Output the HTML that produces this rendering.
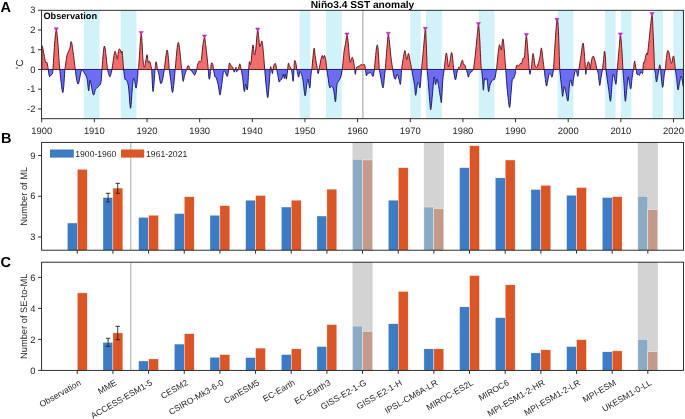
<!DOCTYPE html>
<html><head><meta charset="utf-8"><title>Niño3.4 SST anomaly</title>
<style>
html,body{margin:0;padding:0;background:#fff;width:685px;height:419px;overflow:hidden;}
svg{display:block;}
text{font-family:"Liberation Sans", Arial, sans-serif;text-rendering:geometricPrecision;}
</style></head><body>
<svg width="685" height="419" viewBox="0 0 685 419">
<rect width="685" height="419" fill="#fff"/>
<rect x="83.82" y="10.3" width="15.8" height="108.4" fill="#d2f2fa"/>
<rect x="120.67" y="10.3" width="15.8" height="108.4" fill="#d2f2fa"/>
<rect x="299.68" y="10.3" width="10.53" height="108.4" fill="#d2f2fa"/>
<rect x="326.01" y="10.3" width="15.79" height="108.4" fill="#d2f2fa"/>
<rect x="410.25" y="10.3" width="10.53" height="108.4" fill="#d2f2fa"/>
<rect x="426.04" y="10.3" width="15.8" height="108.4" fill="#d2f2fa"/>
<rect x="478.69" y="10.3" width="15.8" height="108.4" fill="#d2f2fa"/>
<rect x="557.67" y="10.3" width="15.8" height="108.4" fill="#d2f2fa"/>
<rect x="605.06" y="10.3" width="10.53" height="108.4" fill="#d2f2fa"/>
<rect x="620.85" y="10.3" width="10.53" height="108.4" fill="#d2f2fa"/>
<rect x="652.44" y="10.3" width="10.53" height="108.4" fill="#d2f2fa"/>
<rect x="673.5" y="10.3" width="9.9" height="108.4" fill="#d2f2fa"/>
<line x1="362.86" y1="10.3" x2="362.86" y2="118.7" stroke="#b4b4b4" stroke-width="1.3"/>
<defs><clipPath id="ca"><rect x="41.6" y="10.3" width="641.8" height="108.4"/></clipPath></defs>
<g clip-path="url(#ca)">
<path d="M41.9,69.45 C41.9,65.51 41.9,47.07 41.9,45.8 C42.5,44.52 44.67,59.03 45.5,61.8 C46.33,64.57 46.43,61.12 46.9,62.4 C47.37,63.67 48.07,68.28 48.3,69.45 Z" fill="rgb(242,110,110)" stroke="rgba(88,8,12,0.9)" stroke-width="1.0" stroke-linejoin="round"/>
<path d="M48.3,69.45 C48.48,70.61 48.95,75.48 49.4,76.4 C49.85,77.33 50.48,75.47 51,75 C51.52,74.53 52.18,74.52 52.5,73.6 C52.82,72.67 52.83,70.14 52.9,69.45 Z" fill="rgb(108,108,246)" stroke="rgba(12,12,95,0.9)" stroke-width="1.0" stroke-linejoin="round"/>
<path d="M52.9,69.45 C53.47,62.93 55.17,30.3 56.3,30.3 C57.43,30.3 59.13,62.93 59.7,69.45 Z" fill="rgb(242,110,110)" stroke="rgba(88,8,12,0.9)" stroke-width="1.0" stroke-linejoin="round"/>
<path d="M59.7,69.45 C60.22,73.31 61.93,92.6 62.8,92.6 C63.67,92.6 64.55,73.31 64.9,69.45 Z" fill="rgb(108,108,246)" stroke="rgba(12,12,95,0.9)" stroke-width="1.0" stroke-linejoin="round"/>
<path d="M64.9,69.45 C65.25,67.12 66.18,58.98 67,55.5 C67.82,52.02 69.03,50.78 69.8,48.6 C70.57,46.42 70.68,38.92 71.6,42.4 C72.52,45.88 74.68,64.94 75.3,69.45 Z" fill="rgb(242,110,110)" stroke="rgba(88,8,12,0.9)" stroke-width="1.0" stroke-linejoin="round"/>
<path d="M75.3,69.45 C75.53,71.17 76.17,77.42 76.7,79.8 C77.23,82.17 77.7,85.3 78.5,83.7 C79.3,82.1 80.53,72 81.5,70.2 C82.47,69.45 83.38,71.52 84.3,72.9 C85.22,74.28 86.27,75.5 87,78.5 C87.73,81.5 88.18,90.57 88.7,90.9 C89.22,91.23 89.33,79.85 90.1,80.5 C90.87,81.15 92.42,93.3 93.3,94.8 C94.18,96.3 94.83,90.62 95.4,89.5 C95.97,88.38 96.13,88.67 96.7,88.1 C97.27,87.53 98.1,87.02 98.8,86.1 C99.5,85.18 100.37,85.38 100.9,82.6 C101.43,79.82 101.82,71.64 102,69.45 Z" fill="rgb(108,108,246)" stroke="rgba(12,12,95,0.9)" stroke-width="1.0" stroke-linejoin="round"/>
<path d="M102,69.45 C102.4,65.56 103.48,46.1 104.4,46.1 C105.32,46.1 106.98,65.56 107.5,69.45 Z" fill="rgb(242,110,110)" stroke="rgba(88,8,12,0.9)" stroke-width="1.0" stroke-linejoin="round"/>
<path d="M107.5,69.45 C107.9,70.67 109.15,76.8 109.9,76.8 C110.65,76.8 111.65,70.67 112,69.45 Z" fill="rgb(108,108,246)" stroke="rgba(12,12,95,0.9)" stroke-width="1.0" stroke-linejoin="round"/>
<path d="M112,69.45 C112.45,66.54 113.97,54.33 114.7,52 C115.43,49.67 115.95,54.33 116.4,55.5 C116.85,56.67 117,59.97 117.4,59 C117.8,58.03 118.33,51.25 118.8,49.7 C119.27,48.15 119.78,49.18 120.2,49.7 C120.62,50.22 120.97,52.42 121.3,52.8 C121.63,53.18 121.82,49.23 122.2,52 C122.58,54.77 123.37,66.54 123.6,69.45 Z" fill="rgb(242,110,110)" stroke="rgba(88,8,12,0.9)" stroke-width="1.0" stroke-linejoin="round"/>
<path d="M123.6,69.45 C123.83,71.06 124.53,77.38 125,79.1 C125.47,80.82 125.82,78.52 126.4,79.8 C126.98,81.08 127.82,82.07 128.5,86.8 C129.18,91.53 129.93,107.05 130.5,108.2 C131.07,109.35 131.43,98.55 131.9,93.7 C132.37,88.85 132.83,81.18 133.3,79.1 C133.77,77.02 134.23,79.7 134.7,81.2 C135.17,82.7 135.63,88.55 136.1,88.1 C136.57,87.65 137.17,81.61 137.5,78.5 C137.83,75.39 138,70.96 138.1,69.45 Z" fill="rgb(108,108,246)" stroke="rgba(12,12,95,0.9)" stroke-width="1.0" stroke-linejoin="round"/>
<path d="M138.1,69.45 C138.22,68.74 138.28,69.45 138.8,65.2 C139.32,59.31 140.5,35.02 141.2,34.1 C141.9,33.18 142.47,54.17 143,59.7 C143.53,65.23 143.93,67.08 144.4,67.3 C144.87,67.52 145.35,63.08 145.8,61 C146.25,58.92 146.72,54.57 147.1,54.8 C147.48,55.03 147.75,61.37 148.1,62.4 C148.45,63.43 148.83,60.88 149.2,61 C149.57,61.12 149.88,61.69 150.3,63.1 C150.72,64.51 151.47,68.39 151.7,69.45 Z" fill="rgb(242,110,110)" stroke="rgba(88,8,12,0.9)" stroke-width="1.0" stroke-linejoin="round"/>
<path d="M151.7,69.45 C151.93,73.14 152.55,91.6 153.1,91.6 C153.65,91.6 154.68,73.14 155,69.45 Z" fill="rgb(108,108,246)" stroke="rgba(12,12,95,0.9)" stroke-width="1.0" stroke-linejoin="round"/>
<path d="M155,69.45 C155.18,68.17 155.68,61.8 156.1,61.8 C156.52,61.8 157.27,68.17 157.5,69.45 Z" fill="rgb(242,110,110)" stroke="rgba(88,8,12,0.9)" stroke-width="1.0" stroke-linejoin="round"/>
<path d="M157.5,69.45 C157.73,70.26 158.38,71.99 158.9,74.3 C159.42,76.61 160.02,82.27 160.6,83.3 C161.18,84.33 161.78,82.81 162.4,80.5 C163.02,78.19 163.98,71.29 164.3,69.45 Z" fill="rgb(108,108,246)" stroke="rgba(12,12,95,0.9)" stroke-width="1.0" stroke-linejoin="round"/>
<path d="M164.3,69.45 C164.78,66.21 166.37,50 167.2,50 C168.03,50 168.95,66.21 169.3,69.45 Z" fill="rgb(242,110,110)" stroke="rgba(88,8,12,0.9)" stroke-width="1.0" stroke-linejoin="round"/>
<path d="M169.3,69.45 C169.53,71.17 170.13,75.99 170.7,79.8 C171.27,83.61 171.95,94.02 172.7,92.3 C173.45,90.58 174.78,73.26 175.2,69.45 Z" fill="rgb(108,108,246)" stroke="rgba(12,12,95,0.9)" stroke-width="1.0" stroke-linejoin="round"/>
<path d="M175.2,69.45 C175.72,64.94 177.22,42.4 178.3,42.4 C179.38,42.4 181.13,64.94 181.7,69.45 Z" fill="rgb(242,110,110)" stroke="rgba(88,8,12,0.9)" stroke-width="1.0" stroke-linejoin="round"/>
<path d="M181.7,69.45 C181.93,71.41 182.63,80.16 183.1,81.2 C183.57,82.24 183.92,77.66 184.5,75.7 C185.08,73.74 186.25,70.49 186.6,69.45 Z" fill="rgb(108,108,246)" stroke="rgba(12,12,95,0.9)" stroke-width="1.0" stroke-linejoin="round"/>
<path d="M186.6,69.45 C186.87,68.79 187.63,65.5 188.2,65.5 C188.77,65.5 189.7,68.79 190,69.45 Z" fill="rgb(242,110,110)" stroke="rgba(88,8,12,0.9)" stroke-width="1.0" stroke-linejoin="round"/>
<path d="M190,69.45 C190.33,69.79 191.25,70.58 192,71.5 C192.75,72.42 193.85,74.88 194.5,75 C195.15,75.12 195.52,73.12 195.9,72.2 C196.28,71.28 196.65,69.91 196.8,69.45 Z" fill="rgb(108,108,246)" stroke="rgba(12,12,95,0.9)" stroke-width="1.0" stroke-linejoin="round"/>
<path d="M196.8,69.45 C196.92,68.74 197.1,66.61 197.5,65.2 C197.9,63.79 198.73,61.57 199.2,61 C199.67,60.43 199.93,62.02 200.3,61.8 C200.67,61.58 200.98,62.37 201.4,59.7 C201.82,57.03 202.28,49.5 202.8,45.8 C203.32,42.1 204,37.5 204.5,37.5 C205,37.5 205.4,42.8 205.8,45.8 C206.2,48.8 206.48,51.56 206.9,55.5 C207.32,59.44 208.07,67.12 208.3,69.45 Z" fill="rgb(242,110,110)" stroke="rgba(88,8,12,0.9)" stroke-width="1.0" stroke-linejoin="round"/>
<path d="M208.3,69.45 C208.4,70.84 208.67,76.29 208.9,77.8 C209.13,79.31 209.4,79.89 209.7,78.5 C210,77.11 210.53,70.96 210.7,69.45 Z" fill="rgb(108,108,246)" stroke="rgba(12,12,95,0.9)" stroke-width="1.0" stroke-linejoin="round"/>
<path d="M210.7,69.45 C210.82,68.39 211.05,63.93 211.4,63.1 C211.75,62.27 212.45,63.44 212.8,64.5 C213.15,65.56 213.38,68.62 213.5,69.45 Z" fill="rgb(242,110,110)" stroke="rgba(88,8,12,0.9)" stroke-width="1.0" stroke-linejoin="round"/>
<path d="M213.5,69.45 C213.72,70.61 214.35,75.01 214.8,76.4 C215.25,77.79 215.62,76.3 216.2,77.8 C216.78,79.3 217.67,82.52 218.3,85.4 C218.93,88.28 219.42,95.33 220,95.1 C220.58,94.87 221.2,87.93 221.8,84 C222.4,80.07 223.03,73.47 223.6,71.5 C224.17,69.53 224.58,71.38 225.2,72.2 C225.82,73.02 226.72,76.86 227.3,76.4 C227.88,75.94 228.47,70.61 228.7,69.45 Z" fill="rgb(108,108,246)" stroke="rgba(12,12,95,0.9)" stroke-width="1.0" stroke-linejoin="round"/>
<path d="M228.7,69.45 C228.82,68.39 228.95,63.69 229.4,63.1 C229.85,62.51 230.83,65.17 231.4,65.9 C231.97,66.63 232.45,66.91 232.8,67.5 C233.15,68.09 233.38,69.12 233.5,69.45 Z" fill="rgb(242,110,110)" stroke="rgba(88,8,12,0.9)" stroke-width="1.0" stroke-linejoin="round"/>
<path d="M233.5,69.45 C233.62,69.91 233.95,72.11 234.2,72.2 C234.45,72.29 234.83,70.46 235,70 C235.17,69.54 235.17,69.54 235.2,69.45 Z" fill="rgb(108,108,246)" stroke="rgba(12,12,95,0.9)" stroke-width="1.0" stroke-linejoin="round"/>
<path d="M235.2,69.45 C235.34,69.09 235.82,67.3 236,67.3 C236.18,67.3 236.24,69.09 236.29,69.45 Z" fill="rgb(242,110,110)" stroke="rgba(88,8,12,0.9)" stroke-width="1.0" stroke-linejoin="round"/>
<path d="M236.29,69.45 C236.34,69.84 236.29,71.8 236.6,71.8 C236.95,71.8 238.1,69.84 238.4,69.45 Z" fill="rgb(108,108,246)" stroke="rgba(12,12,95,0.9)" stroke-width="1.0" stroke-linejoin="round"/>
<path d="M238.4,69.45 C238.63,68.51 239.35,63.8 239.8,63.8 C240.25,63.8 240.88,68.51 241.1,69.45 Z" fill="rgb(242,110,110)" stroke="rgba(88,8,12,0.9)" stroke-width="1.0" stroke-linejoin="round"/>
<path d="M241.1,69.45 C241.33,70.61 241.97,72.71 242.5,76.4 C243.03,80.09 243.77,90.33 244.3,91.6 C244.83,92.87 245.18,84.35 245.7,84 C246.22,83.65 246.9,91.92 247.4,89.5 C247.9,87.08 248.48,72.79 248.7,69.45 Z" fill="rgb(108,108,246)" stroke="rgba(12,12,95,0.9)" stroke-width="1.0" stroke-linejoin="round"/>
<path d="M248.7,69.45 C248.82,68.17 249.05,62.74 249.4,61.8 C249.75,60.86 250.22,66.58 250.8,63.8 C251.38,61.02 252.32,46.6 252.9,45.1 C253.48,43.6 253.83,53.98 254.3,54.8 C254.77,55.62 255.13,54.03 255.7,50 C256.27,45.97 257.02,31.18 257.7,30.6 C258.38,30.02 259.1,44.77 259.8,46.5 C260.5,48.23 261.32,40.18 261.9,41 C262.48,41.82 262.83,46.66 263.3,51.4 C263.77,56.14 264.47,66.44 264.7,69.45 Z" fill="rgb(242,110,110)" stroke="rgba(88,8,12,0.9)" stroke-width="1.0" stroke-linejoin="round"/>
<path d="M264.7,69.45 C264.92,71.88 265.48,79.31 266,84 C266.52,88.69 267.22,98.3 267.8,97.6 C268.38,96.9 269.08,84.49 269.5,79.8 C269.92,75.11 270.17,71.17 270.3,69.45 Z" fill="rgb(108,108,246)" stroke="rgba(12,12,95,0.9)" stroke-width="1.0" stroke-linejoin="round"/>
<path d="M270.3,69.45 C270.35,68.97 270.4,66.6 270.6,66.6 C270.8,66.6 271.35,68.97 271.5,69.45 Z" fill="rgb(242,110,110)" stroke="rgba(88,8,12,0.9)" stroke-width="1.0" stroke-linejoin="round"/>
<path d="M271.5,69.45 C271.65,70.14 272.15,73.6 272.4,73.6 C272.65,73.6 272.9,70.14 273,69.45 Z" fill="rgb(108,108,246)" stroke="rgba(12,12,95,0.9)" stroke-width="1.0" stroke-linejoin="round"/>
<path d="M273,69.45 C273.2,68.62 273.77,65.44 274.2,64.5 C274.63,63.56 275.2,62.97 275.6,63.8 C276,64.62 276.43,68.51 276.6,69.45 Z" fill="rgb(242,110,110)" stroke="rgba(88,8,12,0.9)" stroke-width="1.0" stroke-linejoin="round"/>
<path d="M276.6,69.45 C276.78,70.26 277.28,72.22 277.7,74.3 C278.12,76.38 278.63,80.98 279.1,81.9 C279.57,82.82 280.05,80.27 280.5,79.8 C280.95,79.33 281.35,80.02 281.8,79.1 C282.25,78.18 282.78,74.4 283.2,74.3 C283.62,74.2 283.95,78.5 284.3,78.5 C284.65,78.5 284.97,74.2 285.3,74.3 C285.63,74.4 285.95,79.48 286.3,79.1 C286.65,78.72 287.17,73.61 287.4,72 C287.63,70.39 287.65,69.88 287.7,69.45 Z" fill="rgb(108,108,246)" stroke="rgba(12,12,95,0.9)" stroke-width="1.0" stroke-linejoin="round"/>
<path d="M287.7,69.45 C287.82,68.39 288.1,63.69 288.4,63.1 C288.7,62.51 289.17,65.2 289.5,65.9 C289.83,66.6 290.07,66.71 290.4,67.3 C290.73,67.89 291.32,69.09 291.5,69.45 Z" fill="rgb(242,110,110)" stroke="rgba(88,8,12,0.9)" stroke-width="1.0" stroke-linejoin="round"/>
<path d="M291.5,69.45 C291.62,70.26 291.92,72.34 292.2,74.3 C292.48,76.26 292.9,82.01 293.2,81.2 C293.5,80.39 293.87,71.41 294,69.45 Z" fill="rgb(108,108,246)" stroke="rgba(12,12,95,0.9)" stroke-width="1.0" stroke-linejoin="round"/>
<path d="M294,69.45 C294.1,68.04 294.32,62.17 294.6,61 C294.88,59.83 295.33,60.99 295.7,62.4 C296.07,63.81 296.62,68.28 296.8,69.45 Z" fill="rgb(242,110,110)" stroke="rgba(88,8,12,0.9)" stroke-width="1.0" stroke-linejoin="round"/>
<path d="M296.8,69.45 C296.97,70.26 297.48,73.03 297.8,74.3 C298.12,75.57 298.37,77.57 298.7,77.1 C299.03,76.63 299.38,72.08 299.8,71.5 C300.22,70.92 300.68,72.22 301.2,73.6 C301.72,74.98 302.25,76.1 302.9,79.8 C303.55,83.5 304.45,95.1 305.1,95.8 C305.75,96.5 306.3,86.78 306.8,84 C307.3,81.22 307.6,78.42 308.1,79.1 C308.6,79.78 309.33,88.67 309.8,88.1 C310.27,87.53 310.57,78.81 310.9,75.7 C311.23,72.59 311.65,70.49 311.8,69.45 Z" fill="rgb(108,108,246)" stroke="rgba(12,12,95,0.9)" stroke-width="1.0" stroke-linejoin="round"/>
<path d="M311.8,69.45 C312.17,65.98 313.45,50.93 314,48.6 C314.55,46.27 314.7,52.97 315.1,55.5 C315.5,58.03 316,61.47 316.4,63.8 C316.8,66.12 317.32,68.51 317.5,69.45 Z" fill="rgb(242,110,110)" stroke="rgba(88,8,12,0.9)" stroke-width="1.0" stroke-linejoin="round"/>
<path d="M317.5,69.45 C317.6,70.14 317.82,73.6 318.1,73.6 C318.38,73.6 319.02,70.14 319.2,69.45 Z" fill="rgb(108,108,246)" stroke="rgba(12,12,95,0.9)" stroke-width="1.0" stroke-linejoin="round"/>
<path d="M319.2,69.45 C319.48,67.83 320.38,62.03 320.9,59.7 C321.42,57.38 321.88,55.73 322.3,55.5 C322.72,55.27 323.03,58.3 323.4,58.3 C323.77,58.3 324.08,55.05 324.5,55.5 C324.92,55.95 325.52,58.67 325.9,61 C326.28,63.33 326.65,68.04 326.8,69.45 Z" fill="rgb(242,110,110)" stroke="rgba(88,8,12,0.9)" stroke-width="1.0" stroke-linejoin="round"/>
<path d="M326.8,69.45 C327.03,70.96 327.73,75.49 328.2,78.5 C328.67,81.51 329.02,86.23 329.6,87.5 C330.18,88.77 331.02,85.65 331.7,86.1 C332.38,86.55 333.07,87.6 333.7,90.2 C334.33,92.8 334.97,102.5 335.5,101.7 C336.03,100.9 336.38,88.82 336.9,85.4 C337.42,81.98 337.97,82.58 338.6,81.2 C339.23,79.82 340.08,79.06 340.7,77.1 C341.32,75.14 342.03,70.72 342.3,69.45 Z" fill="rgb(108,108,246)" stroke="rgba(12,12,95,0.9)" stroke-width="1.0" stroke-linejoin="round"/>
<path d="M342.3,69.45 C342.6,66.44 343.58,55.58 344.1,51.4 C344.62,47.22 344.92,47.05 345.4,44.4 C345.88,41.75 346.53,35.72 347,35.5 C347.47,35.28 347.82,39.77 348.2,43.1 C348.58,46.43 348.97,52.28 349.3,55.5 C349.63,58.72 349.82,61.93 350.2,62.4 C350.58,62.87 351.2,59.1 351.6,58.3 C352,57.5 352.25,56.92 352.6,57.6 C352.95,58.28 353.33,60.42 353.7,62.4 C354.07,64.38 354.62,68.28 354.8,69.45 Z" fill="rgb(242,110,110)" stroke="rgba(88,8,12,0.9)" stroke-width="1.0" stroke-linejoin="round"/>
<path d="M354.8,69.45 C354.88,70.26 355.07,74.3 355.3,74.3 C355.53,74.3 356.05,70.26 356.2,69.45 Z" fill="rgb(108,108,246)" stroke="rgba(12,12,95,0.9)" stroke-width="1.0" stroke-linejoin="round"/>
<path d="M356.2,69.45 C356.28,69.09 356.43,67.78 356.7,67.3 C356.97,66.82 357.33,66.83 357.8,66.6 C358.27,66.37 358.92,66.25 359.5,65.9 C360.08,65.55 360.77,64.62 361.3,64.5 C361.83,64.38 362.17,65.2 362.7,65.2 C363.23,65.2 364.03,63.79 364.5,64.5 C364.97,65.21 365.33,68.62 365.5,69.45 Z" fill="rgb(242,110,110)" stroke="rgba(88,8,12,0.9)" stroke-width="1.0" stroke-linejoin="round"/>
<path d="M365.5,69.45 C365.65,70.49 366.02,75.12 366.4,75.7 C366.78,76.28 367.38,73.25 367.8,72.9 C368.22,72.55 368.53,73.72 368.9,73.6 C369.27,73.48 369.58,72.2 370,72.2 C370.42,72.2 370.88,72.9 371.4,73.6 C371.92,74.3 372.6,77.09 373.1,76.4 C373.6,75.71 374.18,70.61 374.4,69.45 Z" fill="rgb(108,108,246)" stroke="rgba(12,12,95,0.9)" stroke-width="1.0" stroke-linejoin="round"/>
<path d="M374.4,69.45 C374.75,65.86 375.92,51.61 376.5,47.9 C377.08,44.19 377.43,43.61 377.9,47.2 C378.37,50.79 379.07,65.74 379.3,69.45 Z" fill="rgb(242,110,110)" stroke="rgba(88,8,12,0.9)" stroke-width="1.0" stroke-linejoin="round"/>
<path d="M379.3,69.45 C379.53,70.72 380.08,74.02 380.7,77.1 C381.32,80.17 382.38,87.9 383,87.9 C383.62,87.9 384.02,80.17 384.4,77.1 C384.78,74.02 385.15,70.72 385.3,69.45 Z" fill="rgb(108,108,246)" stroke="rgba(12,12,95,0.9)" stroke-width="1.0" stroke-linejoin="round"/>
<path d="M385.3,69.45 C385.57,65.98 386.4,54.38 386.9,48.6 C387.4,42.83 387.83,35.5 388.3,34.8 C388.77,34.1 389.23,40.48 389.7,44.4 C390.17,48.32 390.6,54.12 391.1,58.3 C391.6,62.47 392.43,67.59 392.7,69.45 Z" fill="rgb(242,110,110)" stroke="rgba(88,8,12,0.9)" stroke-width="1.0" stroke-linejoin="round"/>
<path d="M392.7,69.45 C392.93,70.72 393.63,75.49 394.1,77.1 C394.57,78.71 394.97,79.57 395.5,79.1 C396.03,78.63 396.7,74.18 397.3,74.3 C397.9,74.42 398.57,78.18 399.1,79.8 C399.63,81.42 400.08,85.72 400.5,84 C400.92,82.28 401.42,71.88 401.6,69.45 Z" fill="rgb(108,108,246)" stroke="rgba(12,12,95,0.9)" stroke-width="1.0" stroke-linejoin="round"/>
<path d="M401.6,69.45 C401.8,68.04 402.25,64.12 402.8,61 C403.35,57.88 404.27,50.92 404.9,50.7 C405.53,50.48 406.02,59.25 406.6,59.7 C407.18,60.15 407.88,53.52 408.4,53.4 C408.92,53.28 409.13,56.33 409.7,59 C410.27,61.67 411.45,67.71 411.8,69.45 Z" fill="rgb(242,110,110)" stroke="rgba(88,8,12,0.9)" stroke-width="1.0" stroke-linejoin="round"/>
<path d="M411.8,69.45 C412.03,70.84 412.73,75.14 413.2,77.8 C413.67,80.46 414.18,82.48 414.6,85.4 C415.02,88.32 415.23,95.53 415.7,95.3 C416.17,95.07 416.9,86.12 417.4,84 C417.9,81.88 418.25,82.02 418.7,82.6 C419.15,83.18 419.63,89.69 420.1,87.5 C420.57,85.31 421.27,72.46 421.5,69.45 Z" fill="rgb(108,108,246)" stroke="rgba(12,12,95,0.9)" stroke-width="1.0" stroke-linejoin="round"/>
<path d="M421.5,69.45 C421.83,65.98 422.87,55.19 423.5,48.6 C424.13,42.01 424.85,31.05 425.3,29.9 C425.75,28.75 425.88,35.11 426.2,41.7 C426.52,48.29 427.03,64.83 427.2,69.45 Z" fill="rgb(242,110,110)" stroke="rgba(88,8,12,0.9)" stroke-width="1.0" stroke-linejoin="round"/>
<path d="M427.2,69.45 C427.38,71.64 427.88,77.41 428.3,82.6 C428.72,87.79 429.28,96.1 429.7,100.6 C430.12,105.1 430.33,110.75 430.8,109.6 C431.27,108.45 431.95,99.12 432.5,93.7 C433.05,88.28 433.6,78.6 434.1,77.1 C434.6,75.6 435.03,84.37 435.5,84.7 C435.97,85.03 436.37,78.75 436.9,79.1 C437.43,79.45 438.1,83.68 438.7,86.8 C439.3,89.92 440.03,95.32 440.5,97.8 C440.97,100.28 441.12,104.7 441.5,101.7 C441.88,98.7 442.35,85.17 442.8,79.8 C443.25,74.42 443.97,71.17 444.2,69.45 Z" fill="rgb(108,108,246)" stroke="rgba(12,12,95,0.9)" stroke-width="1.0" stroke-linejoin="round"/>
<path d="M444.2,69.45 C444.5,66.89 445.53,56.43 446,54.1 C446.47,51.77 446.6,53.42 447,55.5 C447.4,57.58 447.93,65.45 448.4,66.6 C448.87,67.75 449.27,64.75 449.8,62.4 C450.33,60.05 451.08,52.73 451.6,52.5 C452.12,52.27 452.58,58.17 452.9,61 C453.22,63.83 453.4,68.04 453.5,69.45 Z" fill="rgb(242,110,110)" stroke="rgba(88,8,12,0.9)" stroke-width="1.0" stroke-linejoin="round"/>
<path d="M453.5,69.45 C453.68,70.72 454.23,75.41 454.6,77.1 C454.97,78.79 455.28,80.45 455.7,79.6 C456.12,78.75 456.68,73.69 457.1,72 C457.52,70.31 458.02,69.88 458.2,69.45 Z" fill="rgb(108,108,246)" stroke="rgba(12,12,95,0.9)" stroke-width="1.0" stroke-linejoin="round"/>
<path d="M458.2,69.45 C458.25,69.09 458.2,67.66 458.5,67.3 C458.8,66.94 459.5,68.22 460,67.3 C460.5,66.38 461.07,62.95 461.5,61.8 C461.93,60.65 462.25,59.95 462.6,60.4 C462.95,60.85 463.2,63.7 463.6,64.5 C464,65.3 464.6,64.38 465,65.2 C465.4,66.03 465.83,68.74 466,69.45 Z" fill="rgb(242,110,110)" stroke="rgba(88,8,12,0.9)" stroke-width="1.0" stroke-linejoin="round"/>
<path d="M466,69.45 C466.18,69.88 466.7,70.72 467.1,72 C467.5,73.28 468,76.83 468.4,77.1 C468.8,77.37 469.03,74.42 469.5,73.6 C469.97,72.78 470.53,72.89 471.2,72.2 C471.87,71.51 473.12,69.91 473.5,69.45 Z" fill="rgb(108,108,246)" stroke="rgba(12,12,95,0.9)" stroke-width="1.0" stroke-linejoin="round"/>
<path d="M473.5,69.45 C473.82,66.89 474.82,59.43 475.4,54.1 C475.98,48.77 476.5,42.33 477,37.5 C477.5,32.67 477.98,25.55 478.4,25.1 C478.82,24.65 479.08,28.35 479.5,34.8 C479.92,41.25 480.55,58.02 480.9,63.8 C481.25,69.45 481.48,68.51 481.6,69.45 Z" fill="rgb(242,110,110)" stroke="rgba(88,8,12,0.9)" stroke-width="1.0" stroke-linejoin="round"/>
<path d="M481.6,69.45 C481.77,71.17 482.3,76.34 482.6,79.8 C482.9,83.26 483.1,90.32 483.4,90.2 C483.7,90.08 484.02,80.83 484.4,79.1 C484.78,77.37 485.25,79.8 485.7,79.8 C486.15,79.8 486.63,77.13 487.1,79.1 C487.57,81.07 488.03,90.55 488.5,91.6 C488.97,92.65 489.43,87.02 489.9,85.4 C490.37,83.78 490.83,82.83 491.3,81.9 C491.77,80.97 492.13,80.27 492.7,79.8 C493.27,79.33 494.07,80.82 494.7,79.1 C495.33,77.38 496.2,71.06 496.5,69.45 Z" fill="rgb(108,108,246)" stroke="rgba(12,12,95,0.9)" stroke-width="1.0" stroke-linejoin="round"/>
<path d="M496.5,69.45 C496.92,65.62 498.38,50.33 499,46.5 C499.62,42.67 499.82,45.97 500.2,46.5 C500.58,47.03 500.85,50.97 501.3,49.7 C501.75,48.43 502.4,38.85 502.9,38.9 C503.4,38.95 503.83,44.91 504.3,50 C504.77,55.09 505.47,66.21 505.7,69.45 Z" fill="rgb(242,110,110)" stroke="rgba(88,8,12,0.9)" stroke-width="1.0" stroke-linejoin="round"/>
<path d="M505.7,69.45 C505.88,71.88 506.45,79.72 506.8,84 C507.15,88.28 507.33,91.18 507.8,95.1 C508.27,99.02 509.07,107.73 509.6,107.5 C510.13,107.27 510.55,98.32 511,93.7 C511.45,89.08 511.85,82.33 512.3,79.8 C512.75,77.27 513.23,79.42 513.7,78.5 C514.17,77.58 514.77,75.81 515.1,74.3 C515.43,72.79 515.6,70.26 515.7,69.45 Z" fill="rgb(108,108,246)" stroke="rgba(12,12,95,0.9)" stroke-width="1.0" stroke-linejoin="round"/>
<path d="M515.7,69.45 C515.88,68.74 516.28,65.79 516.8,65.2 C517.32,64.61 518.17,66.25 518.8,65.9 C519.43,65.55 520.13,63.5 520.6,63.1 C521.07,62.7 521.2,64.3 521.6,63.5 C522,62.7 522.53,59.28 523,58.3 C523.47,57.32 524.02,59.68 524.4,57.6 C524.78,55.52 524.97,49.38 525.3,45.8 C525.63,42.22 525.98,35.4 526.4,36.1 C526.82,36.8 527.33,44.44 527.8,50 C528.27,55.56 528.97,66.21 529.2,69.45 Z" fill="rgb(242,110,110)" stroke="rgba(88,8,12,0.9)" stroke-width="1.0" stroke-linejoin="round"/>
<path d="M529.2,69.45 C529.33,70.26 529.73,74.3 530,74.3 C530.27,74.3 530.67,70.26 530.8,69.45 Z" fill="rgb(108,108,246)" stroke="rgba(12,12,95,0.9)" stroke-width="1.0" stroke-linejoin="round"/>
<path d="M531.3,69.45 C531.53,67.01 532.32,57.12 532.7,54.8 C533.08,52.47 533.22,53.77 533.6,55.5 C533.98,57.23 534.47,63.23 535,65.2 C535.53,67.17 536.27,67.53 536.8,67.3 C537.33,67.07 537.67,65.53 538.2,63.8 C538.73,62.07 539.47,59.55 540,56.9 C540.53,54.25 540.93,47.67 541.4,47.9 C541.87,48.13 542.33,54.71 542.8,58.3 C543.27,61.89 543.97,67.59 544.2,69.45 Z" fill="rgb(242,110,110)" stroke="rgba(88,8,12,0.9)" stroke-width="1.0" stroke-linejoin="round"/>
<path d="M544.2,69.45 C544.35,70.72 544.72,74.32 545.1,77.1 C545.48,79.88 546.03,85.65 546.5,86.1 C546.97,86.55 547.43,81.88 547.9,79.8 C548.37,77.72 548.83,74.52 549.3,73.6 C549.77,72.68 550.23,73.72 550.7,74.3 C551.17,74.88 551.63,77.91 552.1,77.1 C552.57,76.29 553.27,70.72 553.5,69.45 Z" fill="rgb(108,108,246)" stroke="rgba(12,12,95,0.9)" stroke-width="1.0" stroke-linejoin="round"/>
<path d="M553.5,69.45 C553.78,64.83 554.63,49.79 555.2,41.7 C555.77,33.61 556.38,23.22 556.9,20.9 C557.42,18.58 557.83,19.71 558.3,27.8 C558.77,35.89 559.47,62.51 559.7,69.45 Z" fill="rgb(242,110,110)" stroke="rgba(88,8,12,0.9)" stroke-width="1.0" stroke-linejoin="round"/>
<path d="M559.7,69.45 C559.88,71.17 560.47,76.69 560.8,79.8 C561.13,82.91 561.38,85.33 561.7,88.1 C562.02,90.87 562.3,96.62 562.7,96.4 C563.1,96.18 563.57,87.48 564.1,86.8 C564.63,86.12 565.25,89.93 565.9,92.3 C566.55,94.67 567.42,102.15 568,101 C568.58,99.85 568.95,88.93 569.4,85.4 C569.85,81.87 570.18,79.68 570.7,79.8 C571.22,79.92 572.05,86.1 572.5,86.1 C572.95,86.1 572.98,82.23 573.4,79.8 C573.82,77.37 574.5,72.98 575,71.5 C575.5,70.02 575.93,70.08 576.4,70.9 C576.87,71.72 577.38,76.64 577.8,76.4 C578.22,76.16 578.72,70.61 578.9,69.45 Z" fill="rgb(108,108,246)" stroke="rgba(12,12,95,0.9)" stroke-width="1.0" stroke-linejoin="round"/>
<path d="M578.9,69.45 C579.25,67.12 580.3,59.89 581,55.5 C581.7,51.11 582.48,42.63 583.1,43.1 C583.72,43.57 584.3,53.91 584.7,58.3 C585.1,62.69 585.37,67.59 585.5,69.45 Z" fill="rgb(242,110,110)" stroke="rgba(88,8,12,0.9)" stroke-width="1.0" stroke-linejoin="round"/>
<path d="M585.5,69.45 C585.55,70.26 585.65,74.3 585.8,74.3 C585.95,74.3 586.3,70.26 586.4,69.45 Z" fill="rgb(108,108,246)" stroke="rgba(12,12,95,0.9)" stroke-width="1.0" stroke-linejoin="round"/>
<path d="M586.4,69.45 C586.58,68.51 587.13,65.08 587.5,63.8 C587.87,62.52 588.23,61.57 588.6,61.8 C588.97,62.03 589.42,63.93 589.7,65.2 C589.98,66.48 590.2,68.74 590.3,69.45 Z" fill="rgb(242,110,110)" stroke="rgba(88,8,12,0.9)" stroke-width="1.0" stroke-linejoin="round"/>
<path d="M590.3,69.45 C590.53,67.83 591.25,61.91 591.7,59.7 C592.15,57.49 592.6,56.55 593,56.2 C593.4,55.85 593.63,56.33 594.1,57.6 C594.57,58.87 595.33,61.82 595.8,63.8 C596.27,65.77 596.72,68.51 596.9,69.45 Z" fill="rgb(242,110,110)" stroke="rgba(88,8,12,0.9)" stroke-width="1.0" stroke-linejoin="round"/>
<path d="M596.9,69.45 C597.13,70.26 597.83,71.64 598.3,74.3 C598.77,76.96 599.23,84.93 599.7,85.4 C600.17,85.87 600.63,79.76 601.1,77.1 C601.57,74.44 602.27,70.72 602.5,69.45 Z" fill="rgb(108,108,246)" stroke="rgba(12,12,95,0.9)" stroke-width="1.0" stroke-linejoin="round"/>
<path d="M602.5,69.45 C602.68,67.83 603.27,62.76 603.6,59.7 C603.93,56.64 604.18,51.33 604.5,51.1 C604.82,50.87 605.27,55.24 605.5,58.3 C605.73,61.36 605.83,67.59 605.9,69.45 Z" fill="rgb(242,110,110)" stroke="rgba(88,8,12,0.9)" stroke-width="1.0" stroke-linejoin="round"/>
<path d="M605.9,69.45 C606.13,71.17 606.83,76.46 607.3,79.8 C607.77,83.14 608.17,85.92 608.7,89.5 C609.23,93.08 609.97,101.98 610.5,101.3 C611.03,100.62 611.45,89.9 611.9,85.4 C612.35,80.9 612.75,75.45 613.2,74.3 C613.65,73.15 614.13,76.88 614.6,78.5 C615.07,80.12 615.55,85.51 616,84 C616.45,82.49 617.08,71.88 617.3,69.45 Z" fill="rgb(108,108,246)" stroke="rgba(12,12,95,0.9)" stroke-width="1.0" stroke-linejoin="round"/>
<path d="M617.3,69.45 C617.6,65.98 618.58,54.26 619.1,48.6 C619.62,42.94 619.95,35.5 620.4,35.5 C620.85,35.5 621.38,42.94 621.8,48.6 C622.22,54.26 622.72,65.98 622.9,69.45 Z" fill="rgb(242,110,110)" stroke="rgba(88,8,12,0.9)" stroke-width="1.0" stroke-linejoin="round"/>
<path d="M622.9,69.45 C623.07,71.64 623.5,77.31 623.9,82.6 C624.3,87.89 624.83,100.05 625.3,101.2 C625.77,102.35 626.23,93.52 626.7,89.5 C627.17,85.48 627.65,78.25 628.1,77.1 C628.55,75.95 628.95,80.65 629.4,82.6 C629.85,84.55 630.33,89.72 630.8,88.8 C631.27,87.88 631.77,80.32 632.2,77.1 C632.63,73.88 633.2,70.72 633.4,69.45 Z" fill="rgb(108,108,246)" stroke="rgba(12,12,95,0.9)" stroke-width="1.0" stroke-linejoin="round"/>
<path d="M633.4,69.45 C633.6,68.06 634.28,61.88 634.6,61.1 C634.92,60.33 635.03,63.41 635.3,64.8 C635.57,66.19 636.05,68.67 636.2,69.45 Z" fill="rgb(242,110,110)" stroke="rgba(88,8,12,0.9)" stroke-width="1.0" stroke-linejoin="round"/>
<path d="M636.2,69.45 C636.32,70.19 636.53,73.06 636.9,73.9 C637.27,74.74 637.97,74.27 638.4,74.5 C638.83,74.73 639.1,75.72 639.5,75.3 C639.9,74.88 640.3,72.28 640.8,72 C641.3,71.72 642.15,74.02 642.5,73.6 C642.85,73.17 642.83,70.14 642.9,69.45 Z" fill="rgb(108,108,246)" stroke="rgba(12,12,95,0.9)" stroke-width="1.0" stroke-linejoin="round"/>
<path d="M642.9,69.45 C643,68.31 643.23,63.79 643.5,62.6 C643.77,61.41 644.13,63.42 644.5,62.3 C644.87,61.18 645.3,57.45 645.7,55.9 C646.1,54.35 646.6,53.28 646.9,53 C647.2,52.72 647.2,55.68 647.5,54.2 C647.8,52.72 648.25,48.25 648.7,44.1 C649.15,39.95 649.65,34.12 650.2,29.3 C650.75,24.48 651.52,14.72 652,15.2 C652.48,15.68 652.67,23.16 653.1,32.2 C653.53,41.24 654.35,63.24 654.6,69.45 Z" fill="rgb(242,110,110)" stroke="rgba(88,8,12,0.9)" stroke-width="1.0" stroke-linejoin="round"/>
<path d="M654.6,69.45 C654.73,70.14 655.1,71.51 655.4,73.6 C655.7,75.69 656.03,81.47 656.4,82 C656.77,82.53 657.2,78.89 657.6,76.8 C658,74.71 658.6,70.67 658.8,69.45 Z" fill="rgb(108,108,246)" stroke="rgba(12,12,95,0.9)" stroke-width="1.0" stroke-linejoin="round"/>
<path d="M658.8,69.45 C658.97,68.67 659.5,64.8 659.8,64.8 C660.1,64.8 660.47,68.67 660.6,69.45 Z" fill="rgb(242,110,110)" stroke="rgba(88,8,12,0.9)" stroke-width="1.0" stroke-linejoin="round"/>
<path d="M660.6,69.45 C660.78,71.42 661.33,78.34 661.7,81.3 C662.07,84.26 662.37,88.35 662.8,87.2 C663.23,86.05 663.88,77.36 664.3,74.4 C664.72,71.44 665.13,70.28 665.3,69.45 Z" fill="rgb(108,108,246)" stroke="rgba(12,12,95,0.9)" stroke-width="1.0" stroke-linejoin="round"/>
<path d="M665.3,69.45 C665.5,67.44 666.1,60.52 666.5,57.4 C666.9,54.27 667.27,51.43 667.7,50.7 C668.13,49.97 668.68,51.63 669.1,53 C669.52,54.37 669.77,57.18 670.2,58.9 C670.63,60.62 671.22,63.67 671.7,63.3 C672.18,62.93 672.72,57.68 673.1,56.7 C673.48,55.72 673.62,55.27 674,57.4 C674.38,59.52 675.17,67.44 675.4,69.45 Z" fill="rgb(242,110,110)" stroke="rgba(88,8,12,0.9)" stroke-width="1.0" stroke-linejoin="round"/>
<path d="M675.4,69.45 C675.6,70.92 676.17,74.89 676.6,78.3 C677.03,81.71 677.52,89.17 678,89.9 C678.48,90.63 678.95,85 679.5,82.7 C680.05,80.4 680.7,75.6 681.3,76.1 C681.9,76.6 682.73,84.38 683.1,85.7 C683.47,87.02 683.43,86.71 683.5,84 C683.5,81.29 683.5,71.88 683.5,69.45 Z" fill="rgb(108,108,246)" stroke="rgba(12,12,95,0.9)" stroke-width="1.0" stroke-linejoin="round"/>
</g>
<path d="M54.2,27.7 L58.4,27.7 L56.3,31.1 Z" fill="#e020e0" stroke="#9a109a" stroke-width="0.4"/>
<path d="M139.1,31.5 L143.3,31.5 L141.2,34.9 Z" fill="#e020e0" stroke="#9a109a" stroke-width="0.4"/>
<path d="M202.4,34.9 L206.6,34.9 L204.5,38.3 Z" fill="#e020e0" stroke="#9a109a" stroke-width="0.4"/>
<path d="M255.6,28 L259.8,28 L257.7,31.4 Z" fill="#e020e0" stroke="#9a109a" stroke-width="0.4"/>
<path d="M344.9,32.9 L349.1,32.9 L347,36.3 Z" fill="#e020e0" stroke="#9a109a" stroke-width="0.4"/>
<path d="M386.2,32.2 L390.4,32.2 L388.3,35.6 Z" fill="#e020e0" stroke="#9a109a" stroke-width="0.4"/>
<path d="M423.2,27.3 L427.4,27.3 L425.3,30.7 Z" fill="#e020e0" stroke="#9a109a" stroke-width="0.4"/>
<path d="M476.3,22.5 L480.5,22.5 L478.4,25.9 Z" fill="#e020e0" stroke="#9a109a" stroke-width="0.4"/>
<path d="M524.3,33.5 L528.5,33.5 L526.4,36.9 Z" fill="#e020e0" stroke="#9a109a" stroke-width="0.4"/>
<path d="M554.8,18.3 L559,18.3 L556.9,21.7 Z" fill="#e020e0" stroke="#9a109a" stroke-width="0.4"/>
<path d="M618.3,32.9 L622.5,32.9 L620.4,36.3 Z" fill="#e020e0" stroke="#9a109a" stroke-width="0.4"/>
<path d="M649.9,12.6 L654.1,12.6 L652,16 Z" fill="#e020e0" stroke="#9a109a" stroke-width="0.4"/>
<rect x="41.6" y="10.3" width="641.8" height="108.4" fill="none" stroke="#1a1a1a" stroke-width="0.9"/>
<line x1="38.1" y1="108.95" x2="41.6" y2="108.95" stroke="#1a1a1a" stroke-width="0.9"/>
<text x="35.4" y="112.15" font-size="9.4" text-anchor="end" fill="#262626">-2</text>
<line x1="38.1" y1="89.2" x2="41.6" y2="89.2" stroke="#1a1a1a" stroke-width="0.9"/>
<text x="35.4" y="92.4" font-size="9.4" text-anchor="end" fill="#262626">-1</text>
<line x1="38.1" y1="69.45" x2="41.6" y2="69.45" stroke="#1a1a1a" stroke-width="0.9"/>
<text x="35.4" y="72.65" font-size="9.4" text-anchor="end" fill="#262626">0</text>
<line x1="38.1" y1="49.7" x2="41.6" y2="49.7" stroke="#1a1a1a" stroke-width="0.9"/>
<text x="35.4" y="52.9" font-size="9.4" text-anchor="end" fill="#262626">1</text>
<line x1="38.1" y1="29.95" x2="41.6" y2="29.95" stroke="#1a1a1a" stroke-width="0.9"/>
<text x="35.4" y="33.15" font-size="9.4" text-anchor="end" fill="#262626">2</text>
<line x1="38.1" y1="10.2" x2="41.6" y2="10.2" stroke="#1a1a1a" stroke-width="0.9"/>
<text x="35.4" y="13.4" font-size="9.4" text-anchor="end" fill="#262626">3</text>
<line x1="41.7" y1="118.7" x2="41.7" y2="122.2" stroke="#1a1a1a" stroke-width="0.9"/>
<text x="41.7" y="134" font-size="9.4" text-anchor="middle" fill="#262626">1900</text>
<line x1="94.35" y1="118.7" x2="94.35" y2="122.2" stroke="#1a1a1a" stroke-width="0.9"/>
<text x="94.35" y="134" font-size="9.4" text-anchor="middle" fill="#262626">1910</text>
<line x1="147" y1="118.7" x2="147" y2="122.2" stroke="#1a1a1a" stroke-width="0.9"/>
<text x="147" y="134" font-size="9.4" text-anchor="middle" fill="#262626">1920</text>
<line x1="199.65" y1="118.7" x2="199.65" y2="122.2" stroke="#1a1a1a" stroke-width="0.9"/>
<text x="199.65" y="134" font-size="9.4" text-anchor="middle" fill="#262626">1930</text>
<line x1="252.3" y1="118.7" x2="252.3" y2="122.2" stroke="#1a1a1a" stroke-width="0.9"/>
<text x="252.3" y="134" font-size="9.4" text-anchor="middle" fill="#262626">1940</text>
<line x1="304.95" y1="118.7" x2="304.95" y2="122.2" stroke="#1a1a1a" stroke-width="0.9"/>
<text x="304.95" y="134" font-size="9.4" text-anchor="middle" fill="#262626">1950</text>
<line x1="357.6" y1="118.7" x2="357.6" y2="122.2" stroke="#1a1a1a" stroke-width="0.9"/>
<text x="357.6" y="134" font-size="9.4" text-anchor="middle" fill="#262626">1960</text>
<line x1="410.25" y1="118.7" x2="410.25" y2="122.2" stroke="#1a1a1a" stroke-width="0.9"/>
<text x="410.25" y="134" font-size="9.4" text-anchor="middle" fill="#262626">1970</text>
<line x1="462.9" y1="118.7" x2="462.9" y2="122.2" stroke="#1a1a1a" stroke-width="0.9"/>
<text x="462.9" y="134" font-size="9.4" text-anchor="middle" fill="#262626">1980</text>
<line x1="515.55" y1="118.7" x2="515.55" y2="122.2" stroke="#1a1a1a" stroke-width="0.9"/>
<text x="515.55" y="134" font-size="9.4" text-anchor="middle" fill="#262626">1990</text>
<line x1="568.2" y1="118.7" x2="568.2" y2="122.2" stroke="#1a1a1a" stroke-width="0.9"/>
<text x="568.2" y="134" font-size="9.4" text-anchor="middle" fill="#262626">2000</text>
<line x1="620.85" y1="118.7" x2="620.85" y2="122.2" stroke="#1a1a1a" stroke-width="0.9"/>
<text x="620.85" y="134" font-size="9.4" text-anchor="middle" fill="#262626">2010</text>
<line x1="673.5" y1="118.7" x2="673.5" y2="122.2" stroke="#1a1a1a" stroke-width="0.9"/>
<text x="673.5" y="134" font-size="9.4" text-anchor="middle" fill="#262626">2020</text>
<text transform="translate(22.6,64.5) rotate(-90)" font-size="10" text-anchor="middle" fill="#262626"><tspan font-size="7.5" dy="-1.4">°</tspan><tspan dy="1.4">C</tspan></text>
<text x="43.4" y="18.7" font-size="9.2" font-weight="bold" fill="#000">Observation</text>
<text x="362.5" y="8.1" font-size="10.2" font-weight="bold" text-anchor="middle" fill="#000">Niño3.4 SST anomaly</text>
<rect x="352.5" y="142.4" width="20.1" height="107.8" fill="#d3d3d3"/>
<rect x="637.79" y="142.4" width="20.1" height="107.8" fill="#d3d3d3"/>
<rect x="423.82" y="142.4" width="20.1" height="107.8" fill="#d3d3d3"/>
<line x1="130.75" y1="142.4" x2="130.75" y2="250.2" stroke="#bdbdbd" stroke-width="1.3"/>
<rect x="67.31" y="222.98" width="9.95" height="27.22" fill="#3d7cc4" stroke="#fff" stroke-width="0.4"/>
<rect x="77.26" y="169.26" width="9.95" height="80.94" fill="#da5626" stroke="#fff" stroke-width="0.4"/>
<rect x="102.97" y="197.46" width="9.95" height="52.74" fill="#3d7cc4" stroke="#fff" stroke-width="0.4"/>
<rect x="112.92" y="188.06" width="9.95" height="62.14" fill="#da5626" stroke="#fff" stroke-width="0.4"/>
<rect x="138.63" y="217.34" width="9.95" height="32.86" fill="#3d7cc4" stroke="#fff" stroke-width="0.4"/>
<rect x="148.58" y="215.19" width="9.95" height="35.01" fill="#da5626" stroke="#fff" stroke-width="0.4"/>
<rect x="174.29" y="213.58" width="9.95" height="36.62" fill="#3d7cc4" stroke="#fff" stroke-width="0.4"/>
<rect x="184.24" y="196.79" width="9.95" height="53.41" fill="#da5626" stroke="#fff" stroke-width="0.4"/>
<rect x="209.96" y="215.19" width="9.95" height="35.01" fill="#3d7cc4" stroke="#fff" stroke-width="0.4"/>
<rect x="219.91" y="205.66" width="9.95" height="44.54" fill="#da5626" stroke="#fff" stroke-width="0.4"/>
<rect x="245.62" y="200.15" width="9.95" height="50.05" fill="#3d7cc4" stroke="#fff" stroke-width="0.4"/>
<rect x="255.57" y="195.45" width="9.95" height="54.75" fill="#da5626" stroke="#fff" stroke-width="0.4"/>
<rect x="281.28" y="207" width="9.95" height="43.2" fill="#3d7cc4" stroke="#fff" stroke-width="0.4"/>
<rect x="291.23" y="200.15" width="9.95" height="50.05" fill="#da5626" stroke="#fff" stroke-width="0.4"/>
<rect x="316.94" y="216" width="9.95" height="34.2" fill="#3d7cc4" stroke="#fff" stroke-width="0.4"/>
<rect x="326.89" y="189.14" width="9.95" height="61.06" fill="#da5626" stroke="#fff" stroke-width="0.4"/>
<rect x="352.6" y="159.19" width="9.95" height="91.01" fill="#8aabc3" stroke="#fff" stroke-width="0.4"/>
<rect x="362.55" y="159.99" width="9.95" height="90.21" fill="#c49a8b" stroke="#fff" stroke-width="0.4"/>
<rect x="388.26" y="200.15" width="9.95" height="50.05" fill="#3d7cc4" stroke="#fff" stroke-width="0.4"/>
<rect x="398.21" y="167.65" width="9.95" height="82.55" fill="#da5626" stroke="#fff" stroke-width="0.4"/>
<rect x="423.92" y="207" width="9.95" height="43.2" fill="#8aabc3" stroke="#fff" stroke-width="0.4"/>
<rect x="433.87" y="208.61" width="9.95" height="41.59" fill="#c49a8b" stroke="#fff" stroke-width="0.4"/>
<rect x="459.58" y="167.65" width="9.95" height="82.55" fill="#3d7cc4" stroke="#fff" stroke-width="0.4"/>
<rect x="469.53" y="145.76" width="9.95" height="104.44" fill="#da5626" stroke="#fff" stroke-width="0.4"/>
<rect x="495.24" y="177.86" width="9.95" height="72.34" fill="#3d7cc4" stroke="#fff" stroke-width="0.4"/>
<rect x="505.19" y="159.99" width="9.95" height="90.21" fill="#da5626" stroke="#fff" stroke-width="0.4"/>
<rect x="530.91" y="189.41" width="9.95" height="60.79" fill="#3d7cc4" stroke="#fff" stroke-width="0.4"/>
<rect x="540.86" y="185.24" width="9.95" height="64.96" fill="#da5626" stroke="#fff" stroke-width="0.4"/>
<rect x="566.57" y="195.18" width="9.95" height="55.02" fill="#3d7cc4" stroke="#fff" stroke-width="0.4"/>
<rect x="576.52" y="187.52" width="9.95" height="62.68" fill="#da5626" stroke="#fff" stroke-width="0.4"/>
<rect x="602.23" y="197.46" width="9.95" height="52.74" fill="#3d7cc4" stroke="#fff" stroke-width="0.4"/>
<rect x="612.18" y="196.66" width="9.95" height="53.54" fill="#da5626" stroke="#fff" stroke-width="0.4"/>
<rect x="637.89" y="196.25" width="9.95" height="53.95" fill="#8aabc3" stroke="#fff" stroke-width="0.4"/>
<rect x="647.84" y="209.68" width="9.95" height="40.52" fill="#c49a8b" stroke="#fff" stroke-width="0.4"/>
<line x1="108.12" y1="193.3" x2="108.12" y2="201.9" stroke="#222" stroke-width="0.9"/>
<line x1="105.92" y1="193.3" x2="110.32" y2="193.3" stroke="#222" stroke-width="0.9"/>
<line x1="105.92" y1="201.9" x2="110.32" y2="201.9" stroke="#222" stroke-width="0.9"/>
<line x1="117.72" y1="183.3" x2="117.72" y2="193.3" stroke="#222" stroke-width="0.9"/>
<line x1="115.52" y1="183.3" x2="119.92" y2="183.3" stroke="#222" stroke-width="0.9"/>
<line x1="115.52" y1="193.3" x2="119.92" y2="193.3" stroke="#222" stroke-width="0.9"/>
<rect x="41.6" y="142.4" width="641.9" height="107.8" fill="none" stroke="#1a1a1a" stroke-width="0.9"/>
<line x1="77.26" y1="250.2" x2="77.26" y2="253.7" stroke="#1a1a1a" stroke-width="0.9"/>
<line x1="112.92" y1="250.2" x2="112.92" y2="253.7" stroke="#1a1a1a" stroke-width="0.9"/>
<line x1="148.58" y1="250.2" x2="148.58" y2="253.7" stroke="#1a1a1a" stroke-width="0.9"/>
<line x1="184.24" y1="250.2" x2="184.24" y2="253.7" stroke="#1a1a1a" stroke-width="0.9"/>
<line x1="219.91" y1="250.2" x2="219.91" y2="253.7" stroke="#1a1a1a" stroke-width="0.9"/>
<line x1="255.57" y1="250.2" x2="255.57" y2="253.7" stroke="#1a1a1a" stroke-width="0.9"/>
<line x1="291.23" y1="250.2" x2="291.23" y2="253.7" stroke="#1a1a1a" stroke-width="0.9"/>
<line x1="326.89" y1="250.2" x2="326.89" y2="253.7" stroke="#1a1a1a" stroke-width="0.9"/>
<line x1="362.55" y1="250.2" x2="362.55" y2="253.7" stroke="#1a1a1a" stroke-width="0.9"/>
<line x1="398.21" y1="250.2" x2="398.21" y2="253.7" stroke="#1a1a1a" stroke-width="0.9"/>
<line x1="433.87" y1="250.2" x2="433.87" y2="253.7" stroke="#1a1a1a" stroke-width="0.9"/>
<line x1="469.53" y1="250.2" x2="469.53" y2="253.7" stroke="#1a1a1a" stroke-width="0.9"/>
<line x1="505.19" y1="250.2" x2="505.19" y2="253.7" stroke="#1a1a1a" stroke-width="0.9"/>
<line x1="540.86" y1="250.2" x2="540.86" y2="253.7" stroke="#1a1a1a" stroke-width="0.9"/>
<line x1="576.52" y1="250.2" x2="576.52" y2="253.7" stroke="#1a1a1a" stroke-width="0.9"/>
<line x1="612.18" y1="250.2" x2="612.18" y2="253.7" stroke="#1a1a1a" stroke-width="0.9"/>
<line x1="647.84" y1="250.2" x2="647.84" y2="253.7" stroke="#1a1a1a" stroke-width="0.9"/>
<line x1="38.1" y1="237" x2="41.6" y2="237" stroke="#1a1a1a" stroke-width="0.9"/>
<text x="35.4" y="240.2" font-size="9.4" text-anchor="end" fill="#262626">3</text>
<line x1="38.1" y1="196.26" x2="41.6" y2="196.26" stroke="#1a1a1a" stroke-width="0.9"/>
<text x="35.4" y="199.46" font-size="9.4" text-anchor="end" fill="#262626">6</text>
<line x1="38.1" y1="155.52" x2="41.6" y2="155.52" stroke="#1a1a1a" stroke-width="0.9"/>
<text x="35.4" y="158.72" font-size="9.4" text-anchor="end" fill="#262626">9</text>
<text transform="translate(27.2,196.3) rotate(-90)" font-size="9.3" text-anchor="middle" fill="#262626">Number of ML</text>
<rect x="50" y="149.5" width="23.8" height="8.1" fill="#3d7cc4"/>
<text x="75.3" y="157" font-size="8.6" fill="#262626">1900-1960</text>
<rect x="121" y="149.5" width="23.2" height="8.1" fill="#da5626"/>
<text x="146.1" y="157" font-size="8.6" fill="#262626">1961-2021</text>
<rect x="352.5" y="262.2" width="20.1" height="108.2" fill="#d3d3d3"/>
<rect x="637.79" y="262.2" width="20.1" height="108.2" fill="#d3d3d3"/>
<line x1="130.75" y1="262.2" x2="130.75" y2="370.4" stroke="#bdbdbd" stroke-width="1.3"/>
<rect x="77.26" y="292.9" width="9.95" height="77.5" fill="#da5626" stroke="#fff" stroke-width="0.4"/>
<rect x="102.97" y="342.34" width="9.95" height="28.06" fill="#3d7cc4" stroke="#fff" stroke-width="0.4"/>
<rect x="112.92" y="332.89" width="9.95" height="37.51" fill="#da5626" stroke="#fff" stroke-width="0.4"/>
<rect x="138.63" y="360.94" width="9.95" height="9.45" fill="#3d7cc4" stroke="#fff" stroke-width="0.4"/>
<rect x="148.58" y="358.93" width="9.95" height="11.47" fill="#da5626" stroke="#fff" stroke-width="0.4"/>
<rect x="174.29" y="344.05" width="9.95" height="26.35" fill="#3d7cc4" stroke="#fff" stroke-width="0.4"/>
<rect x="184.24" y="333.66" width="9.95" height="36.74" fill="#da5626" stroke="#fff" stroke-width="0.4"/>
<rect x="209.96" y="357.22" width="9.95" height="13.18" fill="#3d7cc4" stroke="#fff" stroke-width="0.4"/>
<rect x="219.91" y="354.59" width="9.95" height="15.81" fill="#da5626" stroke="#fff" stroke-width="0.4"/>
<rect x="245.62" y="357.53" width="9.95" height="12.87" fill="#3d7cc4" stroke="#fff" stroke-width="0.4"/>
<rect x="255.57" y="348.08" width="9.95" height="22.32" fill="#da5626" stroke="#fff" stroke-width="0.4"/>
<rect x="281.28" y="354.59" width="9.95" height="15.81" fill="#3d7cc4" stroke="#fff" stroke-width="0.4"/>
<rect x="291.23" y="348.85" width="9.95" height="21.55" fill="#da5626" stroke="#fff" stroke-width="0.4"/>
<rect x="316.94" y="346.53" width="9.95" height="23.87" fill="#3d7cc4" stroke="#fff" stroke-width="0.4"/>
<rect x="326.89" y="324.52" width="9.95" height="45.88" fill="#da5626" stroke="#fff" stroke-width="0.4"/>
<rect x="352.6" y="326.07" width="9.95" height="44.33" fill="#8aabc3" stroke="#fff" stroke-width="0.4"/>
<rect x="362.55" y="331.34" width="9.95" height="39.06" fill="#c49a8b" stroke="#fff" stroke-width="0.4"/>
<rect x="388.26" y="323.75" width="9.95" height="46.65" fill="#3d7cc4" stroke="#fff" stroke-width="0.4"/>
<rect x="398.21" y="291.35" width="9.95" height="79.05" fill="#da5626" stroke="#fff" stroke-width="0.4"/>
<rect x="423.92" y="348.85" width="9.95" height="21.55" fill="#3d7cc4" stroke="#fff" stroke-width="0.4"/>
<rect x="433.87" y="348.85" width="9.95" height="21.55" fill="#da5626" stroke="#fff" stroke-width="0.4"/>
<rect x="459.58" y="306.85" width="9.95" height="63.55" fill="#3d7cc4" stroke="#fff" stroke-width="0.4"/>
<rect x="469.53" y="275.54" width="9.95" height="94.86" fill="#da5626" stroke="#fff" stroke-width="0.4"/>
<rect x="495.24" y="317.7" width="9.95" height="52.7" fill="#3d7cc4" stroke="#fff" stroke-width="0.4"/>
<rect x="505.19" y="284.84" width="9.95" height="85.56" fill="#da5626" stroke="#fff" stroke-width="0.4"/>
<rect x="530.91" y="352.88" width="9.95" height="17.51" fill="#3d7cc4" stroke="#fff" stroke-width="0.4"/>
<rect x="540.86" y="349.78" width="9.95" height="20.62" fill="#da5626" stroke="#fff" stroke-width="0.4"/>
<rect x="566.57" y="346.53" width="9.95" height="23.87" fill="#3d7cc4" stroke="#fff" stroke-width="0.4"/>
<rect x="576.52" y="339.71" width="9.95" height="30.69" fill="#da5626" stroke="#fff" stroke-width="0.4"/>
<rect x="602.23" y="351.8" width="9.95" height="18.6" fill="#3d7cc4" stroke="#fff" stroke-width="0.4"/>
<rect x="612.18" y="350.87" width="9.95" height="19.53" fill="#da5626" stroke="#fff" stroke-width="0.4"/>
<rect x="637.89" y="339.25" width="9.95" height="31.15" fill="#8aabc3" stroke="#fff" stroke-width="0.4"/>
<rect x="647.84" y="351.8" width="9.95" height="18.6" fill="#c49a8b" stroke="#fff" stroke-width="0.4"/>
<line x1="108.12" y1="338.3" x2="108.12" y2="346.3" stroke="#222" stroke-width="0.9"/>
<line x1="105.92" y1="338.3" x2="110.32" y2="338.3" stroke="#222" stroke-width="0.9"/>
<line x1="105.92" y1="346.3" x2="110.32" y2="346.3" stroke="#222" stroke-width="0.9"/>
<line x1="117.72" y1="326.3" x2="117.72" y2="339.7" stroke="#222" stroke-width="0.9"/>
<line x1="115.52" y1="326.3" x2="119.92" y2="326.3" stroke="#222" stroke-width="0.9"/>
<line x1="115.52" y1="339.7" x2="119.92" y2="339.7" stroke="#222" stroke-width="0.9"/>
<rect x="41.6" y="262.2" width="641.9" height="108.2" fill="none" stroke="#1a1a1a" stroke-width="0.9"/>
<line x1="77.26" y1="370.4" x2="77.26" y2="373.9" stroke="#1a1a1a" stroke-width="0.9"/>
<line x1="112.92" y1="370.4" x2="112.92" y2="373.9" stroke="#1a1a1a" stroke-width="0.9"/>
<line x1="148.58" y1="370.4" x2="148.58" y2="373.9" stroke="#1a1a1a" stroke-width="0.9"/>
<line x1="184.24" y1="370.4" x2="184.24" y2="373.9" stroke="#1a1a1a" stroke-width="0.9"/>
<line x1="219.91" y1="370.4" x2="219.91" y2="373.9" stroke="#1a1a1a" stroke-width="0.9"/>
<line x1="255.57" y1="370.4" x2="255.57" y2="373.9" stroke="#1a1a1a" stroke-width="0.9"/>
<line x1="291.23" y1="370.4" x2="291.23" y2="373.9" stroke="#1a1a1a" stroke-width="0.9"/>
<line x1="326.89" y1="370.4" x2="326.89" y2="373.9" stroke="#1a1a1a" stroke-width="0.9"/>
<line x1="362.55" y1="370.4" x2="362.55" y2="373.9" stroke="#1a1a1a" stroke-width="0.9"/>
<line x1="398.21" y1="370.4" x2="398.21" y2="373.9" stroke="#1a1a1a" stroke-width="0.9"/>
<line x1="433.87" y1="370.4" x2="433.87" y2="373.9" stroke="#1a1a1a" stroke-width="0.9"/>
<line x1="469.53" y1="370.4" x2="469.53" y2="373.9" stroke="#1a1a1a" stroke-width="0.9"/>
<line x1="505.19" y1="370.4" x2="505.19" y2="373.9" stroke="#1a1a1a" stroke-width="0.9"/>
<line x1="540.86" y1="370.4" x2="540.86" y2="373.9" stroke="#1a1a1a" stroke-width="0.9"/>
<line x1="576.52" y1="370.4" x2="576.52" y2="373.9" stroke="#1a1a1a" stroke-width="0.9"/>
<line x1="612.18" y1="370.4" x2="612.18" y2="373.9" stroke="#1a1a1a" stroke-width="0.9"/>
<line x1="647.84" y1="370.4" x2="647.84" y2="373.9" stroke="#1a1a1a" stroke-width="0.9"/>
<line x1="38.1" y1="370.4" x2="41.6" y2="370.4" stroke="#1a1a1a" stroke-width="0.9"/>
<text x="35.4" y="373.6" font-size="9.4" text-anchor="end" fill="#262626">0</text>
<line x1="38.1" y1="339.4" x2="41.6" y2="339.4" stroke="#1a1a1a" stroke-width="0.9"/>
<text x="35.4" y="342.6" font-size="9.4" text-anchor="end" fill="#262626">2</text>
<line x1="38.1" y1="308.4" x2="41.6" y2="308.4" stroke="#1a1a1a" stroke-width="0.9"/>
<text x="35.4" y="311.6" font-size="9.4" text-anchor="end" fill="#262626">4</text>
<line x1="38.1" y1="277.4" x2="41.6" y2="277.4" stroke="#1a1a1a" stroke-width="0.9"/>
<text x="35.4" y="280.6" font-size="9.4" text-anchor="end" fill="#262626">6</text>
<text transform="translate(27.2,316.3) rotate(-90)" font-size="9.3" text-anchor="middle" fill="#262626">Number of SE-to-ML</text>
<text transform="translate(81.66,384.4) rotate(-30)" font-size="8.6" text-anchor="end" fill="#262626">Observation</text>
<text transform="translate(117.32,384.4) rotate(-30)" font-size="8.6" text-anchor="end" fill="#262626">MME</text>
<text transform="translate(152.98,384.4) rotate(-30)" font-size="8.6" text-anchor="end" fill="#262626">ACCESS-ESM1-5</text>
<text transform="translate(188.64,384.4) rotate(-30)" font-size="8.6" text-anchor="end" fill="#262626">CESM2</text>
<text transform="translate(224.31,384.4) rotate(-30)" font-size="8.6" text-anchor="end" fill="#262626">CSIRO-Mk3-6-0</text>
<text transform="translate(259.97,384.4) rotate(-30)" font-size="8.6" text-anchor="end" fill="#262626">CanESM5</text>
<text transform="translate(295.63,384.4) rotate(-30)" font-size="8.6" text-anchor="end" fill="#262626">EC-Earth</text>
<text transform="translate(331.29,384.4) rotate(-30)" font-size="8.6" text-anchor="end" fill="#262626">EC-Earth3</text>
<text transform="translate(366.95,384.4) rotate(-30)" font-size="8.6" text-anchor="end" fill="#262626">GISS-E2-1-G</text>
<text transform="translate(402.61,384.4) rotate(-30)" font-size="8.6" text-anchor="end" fill="#262626">GISS-E2-1-H</text>
<text transform="translate(438.27,384.4) rotate(-30)" font-size="8.6" text-anchor="end" fill="#262626">IPSL-CM6A-LR</text>
<text transform="translate(473.93,384.4) rotate(-30)" font-size="8.6" text-anchor="end" fill="#262626">MIROC-ES2L</text>
<text transform="translate(509.59,384.4) rotate(-30)" font-size="8.6" text-anchor="end" fill="#262626">MIROC6</text>
<text transform="translate(545.26,384.4) rotate(-30)" font-size="8.6" text-anchor="end" fill="#262626">MPI-ESM1-2-HR</text>
<text transform="translate(580.92,384.4) rotate(-30)" font-size="8.6" text-anchor="end" fill="#262626">MPI-ESM1-2-LR</text>
<text transform="translate(616.58,384.4) rotate(-30)" font-size="8.6" text-anchor="end" fill="#262626">MPI-ESM</text>
<text transform="translate(652.24,384.4) rotate(-30)" font-size="8.6" text-anchor="end" fill="#262626">UKESM1-0-LL</text>
<text x="0.6" y="11.8" font-size="14.5" font-weight="bold" fill="#000">A</text>
<text x="0.9" y="143.1" font-size="14.5" font-weight="bold" fill="#000">B</text>
<text x="0.6" y="266.8" font-size="14.5" font-weight="bold" fill="#000">C</text>
</svg>
</body></html>
